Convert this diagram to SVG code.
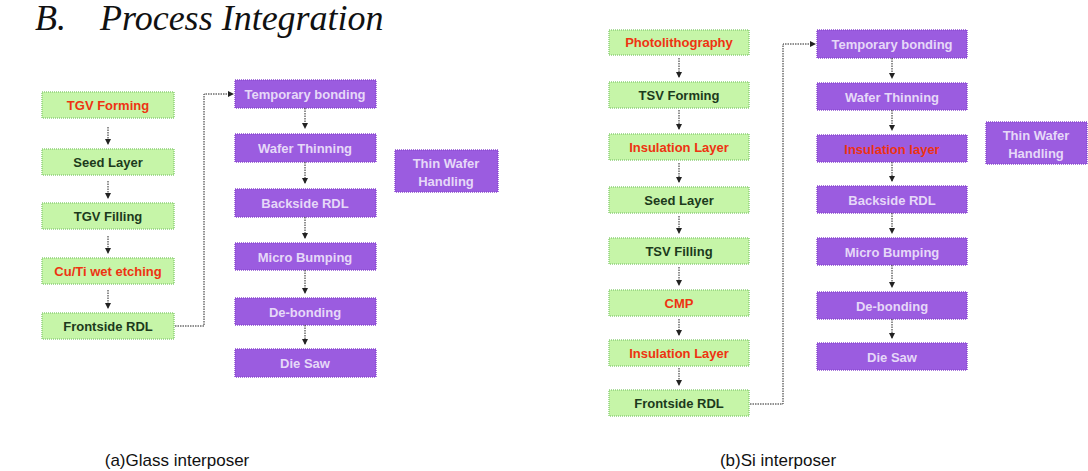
<svg xmlns="http://www.w3.org/2000/svg" width="1088" height="471" viewBox="0 0 1088 471">
<style>
.g rect{fill:#c6f5a8;stroke:#8fd07a;stroke-width:1.5;stroke-dasharray:1 1}
.p rect{fill:#9b5ce0;stroke:#8a4ad0;stroke-width:1.5;stroke-dasharray:1 1}
text{font-family:"Liberation Sans",Arial,sans-serif;font-weight:bold;font-size:13px;text-anchor:middle}
.g text{fill:#1c3a1c}
.g text.r,.p text.r{fill:#ee3311}
.p text{fill:#e6d8f8}
.c{fill:none;stroke:#222;stroke-width:1;stroke-dasharray:1.5 1;marker-end:url(#a)}
.cap{font-weight:normal;font-size:17px;fill:#111}
.t{font-family:"Liberation Serif",serif;font-style:italic;font-weight:normal;font-size:36px;text-anchor:start;fill:#111}
</style>
<defs><marker id="a" markerWidth="6" markerHeight="6" refX="5" refY="3" orient="auto"><path d="M0,0L6,3L0,6z" fill="#222"/></marker></defs>
<text class="t" x="35" y="30">B.</text>
<text class="t" x="100" y="30">Process Integration</text>
<g id="a1" class="g"><rect x="42" y="92" width="132" height="26"/><text class="r" x="108" y="110">TGV Forming</text></g>
<g id="a2" class="g"><rect x="42" y="149" width="132" height="26"/><text x="108" y="167">Seed Layer</text></g>
<g id="a3" class="g"><rect x="42" y="203" width="132" height="26"/><text x="108" y="221">TGV Filling</text></g>
<g id="a4" class="g"><rect x="42" y="258" width="132" height="26"/><text class="r" x="108" y="276">Cu/Ti wet etching</text></g>
<g id="a5" class="g"><rect x="42" y="313" width="132" height="26"/><text x="108" y="331">Frontside RDL</text></g>
<g id="a6" class="p"><rect x="235" y="80" width="141" height="28"/><text x="305" y="99">Temporary bonding</text></g>
<g id="a7" class="p"><rect x="235" y="134" width="141" height="28"/><text x="305" y="153">Wafer Thinning</text></g>
<g id="a8" class="p"><rect x="235" y="189" width="141" height="28"/><text x="305" y="208">Backside RDL</text></g>
<g id="a9" class="p"><rect x="235" y="243" width="141" height="27"/><text x="305" y="262">Micro Bumping</text></g>
<g id="a10" class="p"><rect x="235" y="298" width="141" height="27"/><text x="305" y="317">De-bonding</text></g>
<g id="a11" class="p"><rect x="235" y="349" width="141" height="28"/><text x="305" y="368">Die Saw</text></g>
<g id="a12" class="p"><rect x="395" y="150" width="103" height="42"/><text x="446" y="168">Thin Wafer</text><text x="446" y="186">Handling</text></g>
<g id="b1" class="g"><rect x="609" y="30" width="140" height="25"/><text class="r" x="679" y="47">Photolithography</text></g>
<g id="b2" class="g"><rect x="609" y="82" width="140" height="26"/><text x="679" y="100">TSV Forming</text></g>
<g id="b3" class="g"><rect x="609" y="134" width="140" height="26"/><text class="r" x="679" y="152">Insulation Layer</text></g>
<g id="b4" class="g"><rect x="609" y="187" width="140" height="26"/><text x="679" y="205">Seed Layer</text></g>
<g id="b5" class="g"><rect x="609" y="238" width="140" height="26"/><text x="679" y="256">TSV Filling</text></g>
<g id="b6" class="g"><rect x="609" y="290" width="140" height="26"/><text class="r" x="679" y="308">CMP</text></g>
<g id="b7" class="g"><rect x="609" y="340" width="140" height="26"/><text class="r" x="679" y="358">Insulation Layer</text></g>
<g id="b8" class="g"><rect x="609" y="390" width="140" height="26"/><text x="679" y="408">Frontside RDL</text></g>
<g id="b9" class="p"><rect x="817" y="30" width="150" height="28"/><text x="892" y="49">Temporary bonding</text></g>
<g id="b10" class="p"><rect x="817" y="83" width="150" height="27"/><text x="892" y="102">Wafer Thinning</text></g>
<g id="b11" class="p"><rect x="817" y="135" width="150" height="27"/><text class="r" x="892" y="154">Insulation layer</text></g>
<g id="b12" class="p"><rect x="817" y="186" width="150" height="27"/><text x="892" y="205">Backside RDL</text></g>
<g id="b13" class="p"><rect x="817" y="238" width="150" height="27"/><text x="892" y="257">Micro Bumping</text></g>
<g id="b14" class="p"><rect x="817" y="292" width="150" height="27"/><text x="892" y="311">De-bonding</text></g>
<g id="b15" class="p"><rect x="817" y="343" width="150" height="27"/><text x="892" y="362">Die Saw</text></g>
<g id="b16" class="p"><rect x="986" y="122" width="101" height="42"/><text x="1036" y="140">Thin Wafer</text><text x="1036" y="158">Handling</text></g>
<g id="connectors">
<path class="c" d="M108,127V144"/><path class="c" d="M108,181V198"/><path class="c" d="M108,236V253"/><path class="c" d="M108,290V308"/>
<path class="c" d="M305,108V128"/><path class="c" d="M305,162V183"/><path class="c" d="M305,217V238"/><path class="c" d="M305,270V293"/><path class="c" d="M305,325V344"/>
<path class="c" d="M175,326H204V94H233"/>
<path class="c" d="M679,58V77"/><path class="c" d="M679,110V129"/><path class="c" d="M679,163V182"/><path class="c" d="M679,216V233"/><path class="c" d="M679,267V285"/><path class="c" d="M679,319V335"/><path class="c" d="M679,368V385"/>
<path class="c" d="M892,58V78"/><path class="c" d="M892,110V130"/><path class="c" d="M892,162V181"/><path class="c" d="M892,213V233"/><path class="c" d="M892,265V287"/><path class="c" d="M892,319V338"/>
<path class="c" d="M750,404H783V44H815"/>
</g>
<text class="cap" x="177" y="466">(a)Glass interposer</text>
<text class="cap" x="778" y="466">(b)Si interposer</text>
</svg>
